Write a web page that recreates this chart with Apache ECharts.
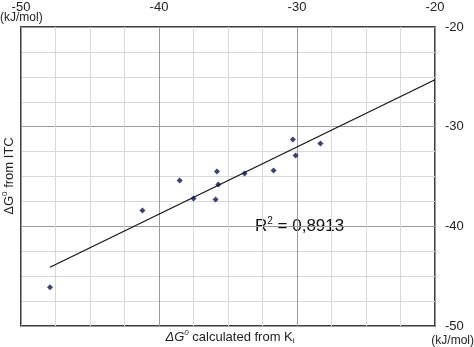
<!DOCTYPE html>
<html><head><meta charset="utf-8">
<script src="https://cdn.jsdelivr.net/npm/echarts@6/dist/echarts.min.js"></script>
<style>html,body{margin:0;padding:0;background:#fff}#c{width:474px;height:347px}</style>
</head><body><div id="c"></div>
<script>
var xValues = [-47.9, -41.2, -38.5, -37.5, -35.8, -35.7, -35.9, -33.8, -31.7, -30.3, -30.1, -28.3];
var yValues = [-46.1, -38.4, -35.4, -37.2, -34.5, -35.8, -37.3, -34.7, -34.4, -31.3, -32.9, -31.7];
var trendX = [-47.9, -20];
var trendY = [-44.1, -25.3];
var r2Text = '0,8913';
var unitText = '(kJ/mol)';

var pts = xValues.map(function (x, i) { return [x, yValues[i]]; });
var trend = trendX.map(function (x, i) { return [x, trendY[i]]; });
var font = 'Liberation Sans, Arial, sans-serif';

var chart = echarts.init(document.getElementById('c'));
chart.setOption({
  animation: false,
  grid: { left: 21, right: 39, top: 27, bottom: 21, show: true, borderColor: '#000', borderWidth: 1.5, backgroundColor: 'transparent' },
  xAxis: {
    type: 'value', position: 'top', min: -50, max: -20, interval: 10,
    axisLine: { show: false }, axisTick: { show: false },
    axisLabel: { margin: 13, fontSize: 13, color: '#222', fontFamily: font },
    splitLine: { show: true, lineStyle: { color: '#9a9a9a', width: 1 } },
    minorTick: { show: false, splitNumber: 4 },
    minorSplitLine: { show: true, lineStyle: { color: '#d8d8d8', width: 1 } }
  },
  yAxis: {
    type: 'value', position: 'right', min: -50, max: -20, interval: 10,
    axisLine: { show: false }, axisTick: { show: false },
    axisLabel: { margin: 10, fontSize: 13, color: '#222', fontFamily: font },
    splitLine: { show: true, lineStyle: { color: '#9a9a9a', width: 1 } },
    minorTick: { show: false, splitNumber: 4 },
    minorSplitLine: { show: true, lineStyle: { color: '#d8d8d8', width: 1 } }
  },
  series: [
    { type: 'line', data: trend, symbol: 'none', lineStyle: { color: '#111', width: 1.2 }, z: 2 },
    { type: 'scatter', data: pts, symbol: 'diamond', symbolSize: 6, itemStyle: { color: '#0f0f4c' }, z: 3 }
  ],
  graphic: [
    { type: 'text', left: 0, top: 12, style: { text: unitText, font: '12px ' + font, fill: '#222' } },
    { type: 'text', right: 0, top: 335, style: { text: unitText, font: '12px ' + font, fill: '#222' } },
    { type: 'text', x: 230, y: 337, style: {
        text: '{i|ΔG}{s|0}{n| calculated from K}{b|i}', align: 'center', verticalAlign: 'middle',
        rich: {
          i: { fontSize: 13, fontStyle: 'italic', fontFamily: font, fill: '#222', lineHeight: 16 },
          s: { fontSize: 8, fontStyle: 'italic', fontFamily: font, fill: '#222', verticalAlign: 'top', lineHeight: 16 },
          n: { fontSize: 13, fontFamily: font, fill: '#222', lineHeight: 16 },
          b: { fontSize: 8, fontFamily: font, fill: '#222', verticalAlign: 'bottom', lineHeight: 14 }
        } } },
    { type: 'text', x: 9, y: 176, rotation: Math.PI / 2, style: {
        text: '{n|ΔG}{s|0}{n| from ITC}', align: 'center', verticalAlign: 'middle',
        rich: {
          n: { fontSize: 13, fontFamily: font, fill: '#222', lineHeight: 16 },
          s: { fontSize: 8, fontFamily: font, fill: '#222', verticalAlign: 'top', lineHeight: 16 }
        } } },
    { type: 'text', x: 255, y: 226, style: {
        text: '{n|R}{s|2}{n| = ' + r2Text + '}', verticalAlign: 'middle',
        rich: {
          n: { fontSize: 17, fontFamily: font, fill: '#111', lineHeight: 20 },
          s: { fontSize: 10, fontFamily: font, fill: '#111', verticalAlign: 'top', lineHeight: 20 }
        } } }
  ]
});
</script></body></html>
